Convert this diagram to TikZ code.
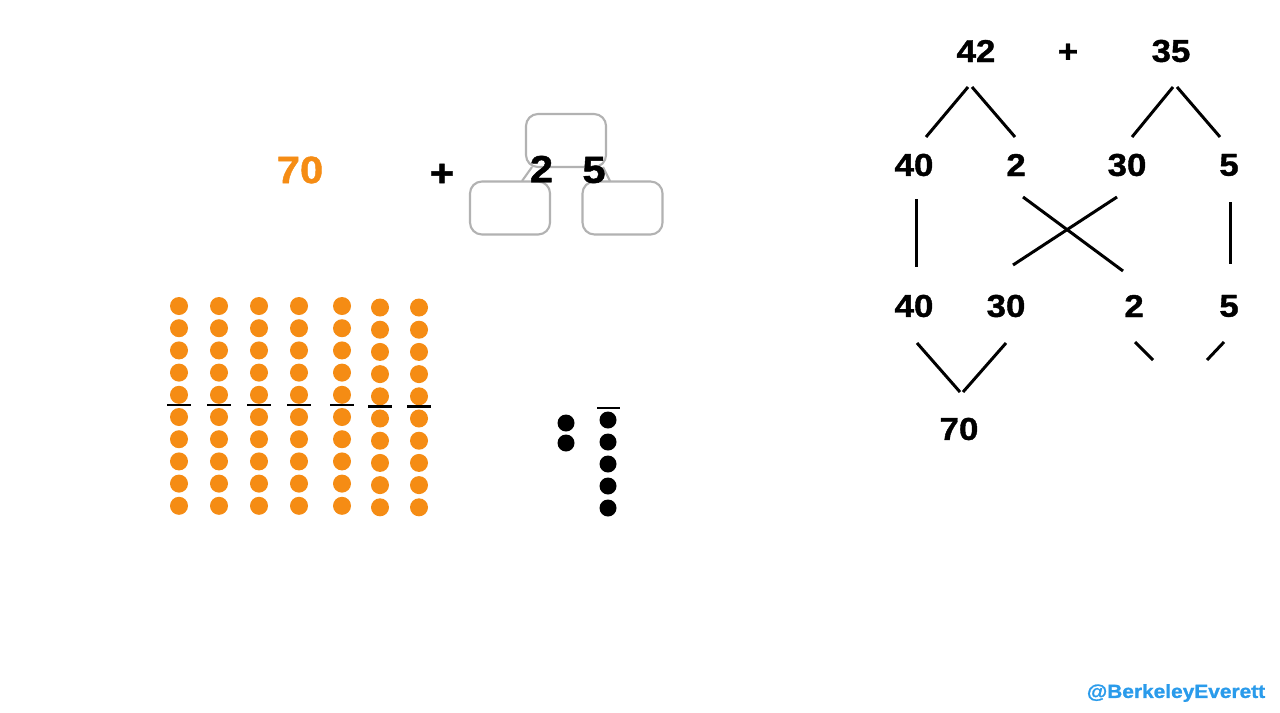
\documentclass[tikz,border=0pt]{standalone}
\usepackage{fontspec}
\setmainfont{Liberation Sans}[FakeStretch=1.1, BoldFeatures={FakeBold=1.2}]
\usepackage{xcolor}
\definecolor{dotorange}{RGB}{245,140,20}
\definecolor{tagblue}{RGB}{42,155,235}

\begin{document}
\begin{tikzpicture}[x=0.01cm,y=-0.01cm,
  num/.style={font=\fontsize{9}{9}\selectfont\bfseries, inner sep=0pt},
  bignum/.style={font=\fontsize{10.8}{11}\selectfont\bfseries, inner sep=0pt},
  link/.style={line width=0.85pt},
  bubble/.style={draw=gray!60, line width=0.6pt, rounded corners=0.12cm,
    minimum width=0.8cm, minimum height=0.53cm, inner sep=0pt}]
\useasboundingbox[fill=white] (0,0) rectangle (1280,712);

%% left: 70 + 25 with empty bubbles
\node[bubble] (btop) at (566,140.5) {};
\node[bubble] (bleft) at (510,208) {};
\node[bubble] (bright) at (622.5,208) {};
\draw[gray!60, line width=0.6pt] ([shift={(12,-27)}]bleft.center) -- ([shift={(-34,26.5)}]btop.center);
\draw[gray!60, line width=0.6pt] ([shift={(-12.5,-27)}]bright.center) -- ([shift={(37,26.5)}]btop.center);
\node[bignum, text=dotorange] (lsum) at (300,170) {70};
\node[bignum] (lplus) at (442,175) {+};
\node[bignum] (ltwo) at (541.5,169) {2};
\node[bignum] (lfive) at (594,170) {5};

%% seven tens, orange
\foreach \cx [count=\i] in {179,219,259,299,342,380,419} {
  \pgfmathsetmacro{\dy}{\i>5 ? 1.5 : 0}
  \foreach \r in {0,...,9}
    \fill[dotorange] (\cx,306+\dy+22.2*\r) circle (9);
  \draw[line width=0.7pt] (\cx-12,405+\dy) -- (\cx+12,405+\dy);
}

%% two and five, black
\foreach \r in {0,1}
  \fill (566,423+20*\r) circle (8.5);
\foreach \r in {0,...,4}
  \fill (608,420+22*\r) circle (8.5);
\draw[line width=0.7pt] (597,408) -- (620,408);

%% right: the split tree
\node[num] (t42) at (976,51) {42};
\node[num] (tplus) at (1068,53) {+};
\node[num] (t35) at (1171,51) {35};
\node[num] (a40) at (914,165) {40};
\node[num] (a2) at (1016,165) {2};
\node[num] (a30) at (1127,165) {30};
\node[num] (a5) at (1229,165) {5};
\node[num] (b40) at (914,306) {40};
\node[num] (b30) at (1006,306) {30};
\node[num] (b2) at (1134,306) {2};
\node[num] (b5) at (1229,306) {5};
\node[num] (s70) at (959,429) {70};

\draw[link] ([shift={(-8,36)}]t42.center) -- ([shift={(12,-28)}]a40.center);
\draw[link] ([shift={(-4,36)}]t42.center) -- ([shift={(-1,-28)}]a2.center);
\draw[link] ([shift={(2,36)}]t35.center) -- ([shift={(5,-28)}]a30.center);
\draw[link] ([shift={(6,36)}]t35.center) -- ([shift={(-9,-28)}]a5.center);
\draw[link] ([shift={(2,34)}]a40.center) -- ([shift={(2,-39)}]b40.center);
\draw[link] ([shift={(7,32)}]a2.center) -- ([shift={(-11,-35)}]b2.center);
\draw[link] ([shift={(-10,32)}]a30.center) -- ([shift={(7,-41)}]b30.center);
\draw[link] ([shift={(1,37)}]a5.center) -- ([shift={(1,-42)}]b5.center);
\draw[link] ([shift={(3,37)}]b40.center) -- ([shift={(1,-37)}]s70.center);
\draw[link] ([shift={(0,37)}]b30.center) -- ([shift={(4,-37)}]s70.center);
\draw[link] ([shift={(1,36)}]b2.center) -- ++(18,18);
\draw[link] ([shift={(-5,36)}]b5.center) -- ++(-17,18);

\node[font=\fontsize{5.4}{6}\selectfont\bfseries, text=tagblue, inner sep=0pt] (tag) at (1176,693) {@BerkeleyEverett};
\end{tikzpicture}
\end{document}
